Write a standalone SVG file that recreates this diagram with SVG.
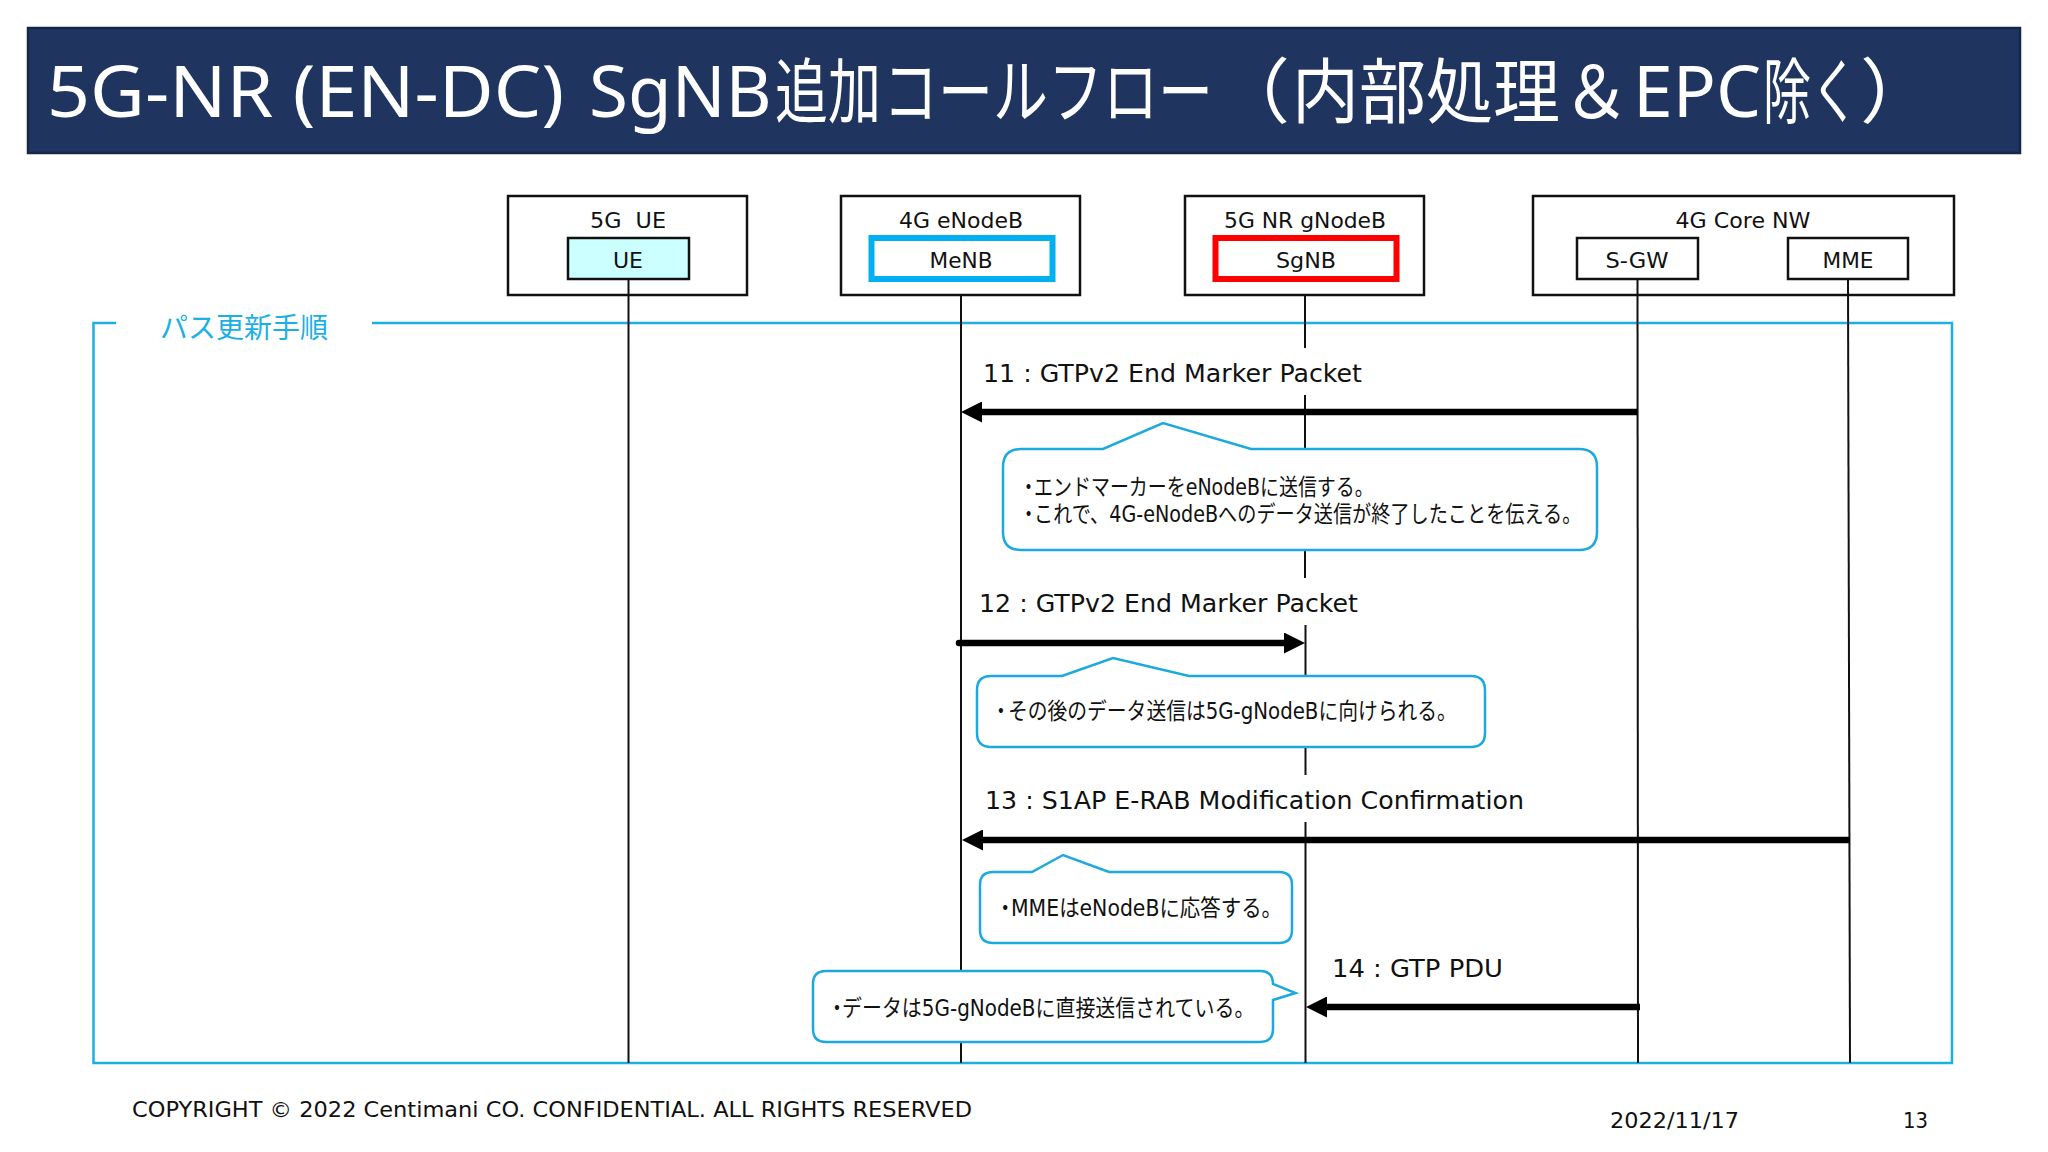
<svg xmlns="http://www.w3.org/2000/svg" width="2048" height="1152" viewBox="0 0 2048 1152">
<style>
text{font-family:"DejaVu Sans","Noto Sans CJK JP",sans-serif;fill:#111}
.title{font-family:"Noto Sans","Noto Sans CJK JP",sans-serif;font-size:71px;fill:#fff}
.nt{font-size:22px;text-anchor:middle}
.lab{font-size:25px}
.note{font-size:23px}
.foot{font-size:22px}
.box{fill:#fff;stroke:#111;stroke-width:2.5}
.ll{stroke:#111;stroke-width:2;fill:none}
.msg{stroke:#000;stroke-width:6.5;fill:none}
.bub{fill:#fff;stroke:#1ca9de;stroke-width:2.5}
</style>
<defs>
<marker id="ah" markerUnits="userSpaceOnUse" markerWidth="22" markerHeight="21" refX="1" refY="10.500" orient="auto"><polygon points="0,0 21,10.500 0,21" fill="#000"/></marker>
</defs>
<rect width="2048" height="1152" fill="#fff"/>
<g id="banner">
<rect x="28" y="28" width="1992" height="125" fill="#1f3560" stroke="#16264a" stroke-width="2.5"/>
<text class="title" y="117" x="47" textLength="517" lengthAdjust="spacingAndGlyphs">5G-NR (EN-DC)</text>
<text class="title" y="117" x="589">SgNB</text>
<text class="title" transform="translate(775,117) scale(.746,1)">追加</text>
<text class="title" transform="translate(883,117) scale(.775,1)">コールフロー</text>
<text class="title" transform="translate(1215,117) scale(1.056,1)">（</text>
<text class="title" transform="translate(1292,117) scale(.944,1)">内部処理</text>
<text class="title" transform="translate(1562,117) scale(.958,1)">＆</text>
<text class="title" y="117" x="1633" textLength="128" lengthAdjust="spacingAndGlyphs">EPC</text>
<text class="title" transform="translate(1763,117) scale(.676,1)">除く</text>
<text class="title" transform="translate(1860,117) scale(1.056,1)">）</text>
</g>
<g id="frame">
<path d="M116 323H93.5V1063H1952V323H372" fill="none" stroke="#1ab0e6" stroke-width="2.5"/>
<text x="160" y="338" font-size="28" style="font-family:'Noto Sans CJK JP',sans-serif;fill:#1ab0e6">パス更新手順</text>
</g>
<g id="node-ue">
<rect class="box" x="508" y="196" width="239" height="99"/>
<text class="nt" x="628" y="228" xml:space="preserve" textLength="76" lengthAdjust="spacingAndGlyphs">5G  UE</text>
<rect x="568" y="238" width="121" height="41" fill="#ccffff" stroke="#111" stroke-width="2.5"/>
<text class="nt" x="628" y="268">UE</text>
</g>
<g id="node-enb">
<rect class="box" x="841" y="196" width="239" height="99"/>
<text class="nt" x="961" y="228" textLength="124" lengthAdjust="spacingAndGlyphs">4G eNodeB</text>
<rect x="871.500" y="238" width="181" height="41" fill="#fff" stroke="#00b0f0" stroke-width="6"/>
<text class="nt" x="961" y="268" textLength="63" lengthAdjust="spacingAndGlyphs">MeNB</text>
</g>
<g id="node-gnb">
<rect class="box" x="1185" y="196" width="239" height="99"/>
<text class="nt" x="1305" y="228" textLength="162" lengthAdjust="spacingAndGlyphs">5G NR gNodeB</text>
<rect x="1215.500" y="238" width="181" height="41" fill="#fff" stroke="#f00" stroke-width="6"/>
<text class="nt" x="1306" y="268" textLength="60" lengthAdjust="spacingAndGlyphs">SgNB</text>
</g>
<g id="node-core">
<rect class="box" x="1533" y="196" width="421" height="99"/>
<text class="nt" x="1743" y="228" textLength="135" lengthAdjust="spacingAndGlyphs">4G Core NW</text>
<rect class="box" x="1577" y="238" width="121" height="41"/>
<text class="nt" x="1637" y="268" textLength="63" lengthAdjust="spacingAndGlyphs">S-GW</text>
<rect class="box" x="1788" y="238" width="120" height="41"/>
<text class="nt" x="1848" y="268" textLength="51" lengthAdjust="spacingAndGlyphs">MME</text>
</g>
<g id="connectors">
<path class="ll" d="M628.500 279V1063"/>
<path class="ll" d="M961 295V1063"/>
<path class="ll" d="M1305 295V348M1305 395V578M1305.500 625V775M1305.500 822V1063"/>
<path class="ll" d="M1637.500 279L1638 1063"/>
<path class="ll" d="M1848 279L1850 1063"/>
<path class="msg" d="M1637 412H981" marker-end="url(#ah)"/>
<path class="msg" d="M959 643H1285" stroke-linecap="round" marker-end="url(#ah)"/>
<path class="msg" d="M1850 840H982" marker-end="url(#ah)"/>
<path class="msg" d="M1640 1007H1326" marker-end="url(#ah)"/>
</g>
<g id="labels">
<text class="lab" x="983" y="382" textLength="379" lengthAdjust="spacingAndGlyphs">11 : GTPv2 End Marker Packet</text>
<text class="lab" x="979" y="612" textLength="379" lengthAdjust="spacingAndGlyphs">12 : GTPv2 End Marker Packet</text>
<text class="lab" x="985" y="809" textLength="539" lengthAdjust="spacingAndGlyphs">13 : S1AP E-RAB Modification Confirmation</text>
<text class="lab" x="1332" y="977" textLength="171" lengthAdjust="spacingAndGlyphs">14 : GTP PDU</text>
</g>
<g id="note-1">
<path class="bub" d="M1021 449H1103L1163 423L1251 449H1579Q1597 449 1597 467V532Q1597 550 1579 550H1021Q1003 550 1003 532V467Q1003 449 1021 449Z"/>
<text class="note" transform="translate(1019,495) scale(.825,1)" x="0 18.200">・エンドマーカーをeNodeBに送信する。</text>
<text class="note" transform="translate(1019,522) scale(.833,1)" x="0 18">・これで、4G-eNodeBへのデータ送信が終了したことを伝える。</text>
</g>
<g id="note-2">
<path class="bub" d="M991 676H1062L1113 658L1189 676H1471Q1485 676 1485 690V733Q1485 747 1471 747H991Q977 747 977 733V690Q977 676 991 676Z"/>
<text class="note" transform="translate(991,719) scale(.86,1)" x="0 19.800">・その後のデータ送信は5G-gNodeBに向けられる。</text>
</g>
<g id="note-3">
<path class="bub" d="M993 872H1032L1063 855L1109 872H1279Q1292 872 1292 885V930Q1292 943 1279 943H993Q980 943 980 930V885Q980 872 993 872Z"/>
<text class="note" transform="translate(995,916) scale(.888,1)" x="0 18">・MMEはeNodeBに応答する。</text>
</g>
<g id="note-4">
<path class="bub" d="M826 971H1260Q1273 971 1273 984L1295.600 993L1273 1000V1029Q1273 1042 1260 1042H826Q813 1042 813 1029V984Q813 971 826 971Z"/>
<text class="note" transform="translate(827,1016) scale(.868,1)" x="0 17.300">・データは5G-gNodeBに直接送信されている。</text>
</g>
<g id="footer">
<text class="foot" x="132" y="1117" textLength="840" lengthAdjust="spacingAndGlyphs">COPYRIGHT © 2022 Centimani CO. CONFIDENTIAL. ALL RIGHTS RESERVED</text>
<text class="foot" x="1610" y="1128" textLength="129" lengthAdjust="spacingAndGlyphs">2022/11/17</text>
<text class="foot" x="1903" y="1128" textLength="25" lengthAdjust="spacingAndGlyphs">13</text>
</g>
</svg>
